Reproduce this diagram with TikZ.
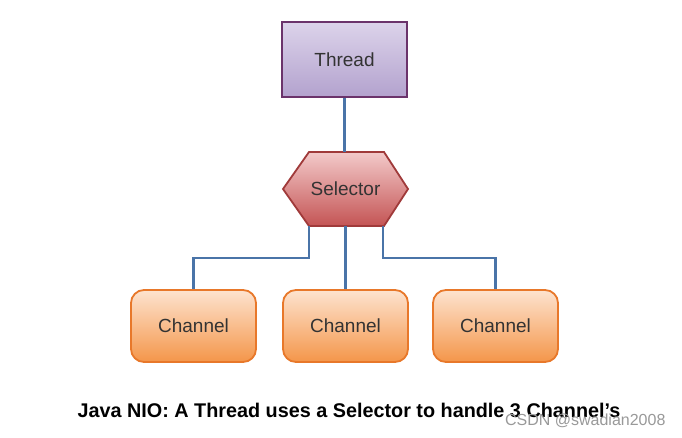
\documentclass[tikz,border=0pt]{standalone}
\usepackage{fontspec}
\setmainfont{Liberation Sans}
\begin{document}
\begin{tikzpicture}[x=1pt,y=-1pt,
  box/.style={draw, line width=1.8pt, inner sep=0pt, font=\fontsize{19}{21}\selectfont, text=black!80},
  thr/.style={box, draw=violet!55!black!80, top color=thrT, bottom color=thrB, minimum width=125pt, minimum height=75pt},
  chan/.style={box, draw=chB, top color=chT, bottom color=chM, rounded corners=13pt, minimum width=125pt, minimum height=72pt},
  conn/.style={draw=connC, line width=2.4pt}]
\definecolor{thrT}{HTML}{DCD3EA}\definecolor{thrB}{HTML}{B3A2CE}
\definecolor{selT}{HTML}{F3CACA}\definecolor{selB}{HTML}{C45454}\definecolor{selD}{HTML}{A03A3A}
\definecolor{chT}{HTML}{FDE3CF}\definecolor{chM}{HTML}{F4964A}\definecolor{chB}{HTML}{E8782A}
\definecolor{connC}{HTML}{4A74A8}
\useasboundingbox[fill=white] (0,0) rectangle (682,437);
\node[thr] (thread) at (344.5,59.5) {Thread};
\path[draw=selD, line width=1.8pt, top color=selT, bottom color=selB]
  (309,152) -- (384,152) -- (408,189) -- (384,226) -- (309,226) -- (283,189) -- cycle;
\node[font=\fontsize{19}{21}\selectfont, text=black!80, minimum width=125pt, minimum height=74pt, inner sep=0pt] (selector) at (345.5,189) {Selector};
\node[chan] (c1) at (193.5,326) {Channel};
\node[chan] (c2) at (345.5,326) {Channel};
\node[chan] (c3) at (495.5,326) {Channel};
\coordinate (s1) at (309,226);
\coordinate (s3) at (383,226);
\draw[conn] (thread.south) -- (thread.south |- 0,152);
\draw[conn] (s1) -- (309,258) -| (c1.north);
\draw[conn] (selector.south -| c2.north) -- (c2.north);
\draw[conn] (s3) -- (383,258) -| (c3.north);
\node[font=\bfseries\fontsize{19.8}{22}\selectfont] (cap) at (349,410) {Java NIO: A Thread uses a Selector to handle 3 Channel{\char"0027}s};
\node[font=\fontsize{16}{18}\selectfont, text=black!40, anchor=east] (wm) at (669,421) {CSDN @swadian2008};
\end{tikzpicture}
\end{document}
